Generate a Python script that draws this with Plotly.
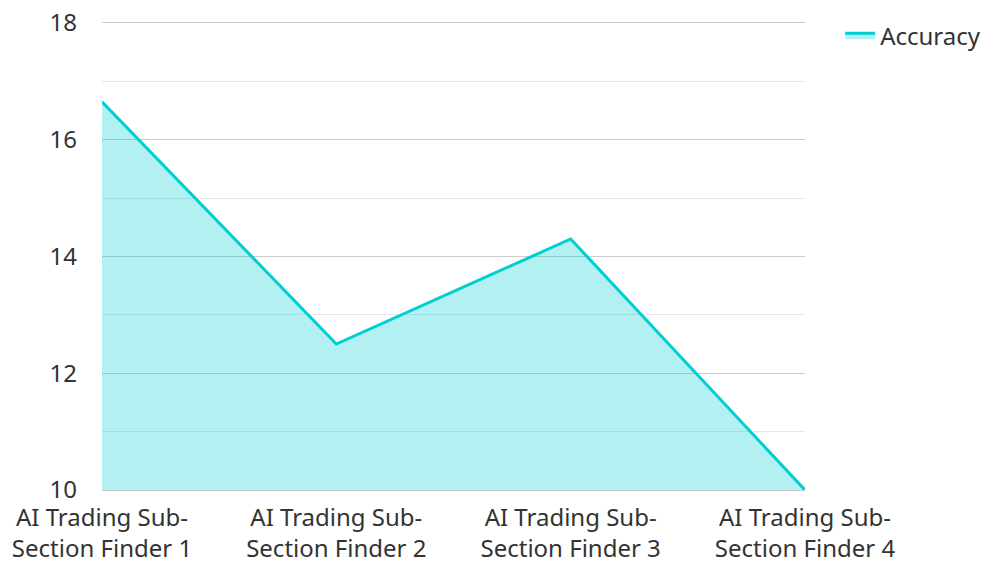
import plotly.graph_objects as go

categories = ["AI Trading Sub-<br>Section Finder 1", "AI Trading Sub-<br>Section Finder 2",
              "AI Trading Sub-<br>Section Finder 3", "AI Trading Sub-<br>Section Finder 4"]
accuracy = [16.65, 12.5, 14.3, 10.0]
y_ticks = [10, 12, 14, 16, 18]

fig = go.Figure()
fig.add_trace(go.Scatter(
    x=categories, y=accuracy, name="Accuracy", mode="lines",
    line=dict(color="#00CED1", width=3),
    fill="tozeroy", fillcolor="rgba(0,206,209,0.3)",
))

font = dict(family="Noto Sans", size=24, color="#333333")
fig.update_layout(
    width=994, height=562,
    margin=dict(l=94, r=197, t=15, b=80, autoexpand=False),
    paper_bgcolor="white", plot_bgcolor="white",
    font=font,
    showlegend=True,
    legend=dict(x=1.05, y=1.021, xanchor="left", yanchor="top", font=font,
                bgcolor="rgba(0,0,0,0)"),
    xaxis=dict(type="category", range=[0, 3], showgrid=False, zeroline=False,
               showline=True, mirror=True, linecolor="#cccccc", linewidth=1, automargin=False,
               ticks="", tickfont=font, ticklabelstandoff=6, ticklabeloverflow="allow"),
    yaxis=dict(range=[10, 18], tickvals=y_ticks, showgrid=True, gridcolor="#cccccc",
               gridwidth=1, zeroline=False, showline=False, ticks="", automargin=False,
               ticklabelstandoff=24, tickfont=font, ticklabeloverflow="allow",
               minor=dict(dtick=1, tick0=0, showgrid=True, gridcolor="#e6e6e6", gridwidth=1)),
)

fig.write_html("out.html")
